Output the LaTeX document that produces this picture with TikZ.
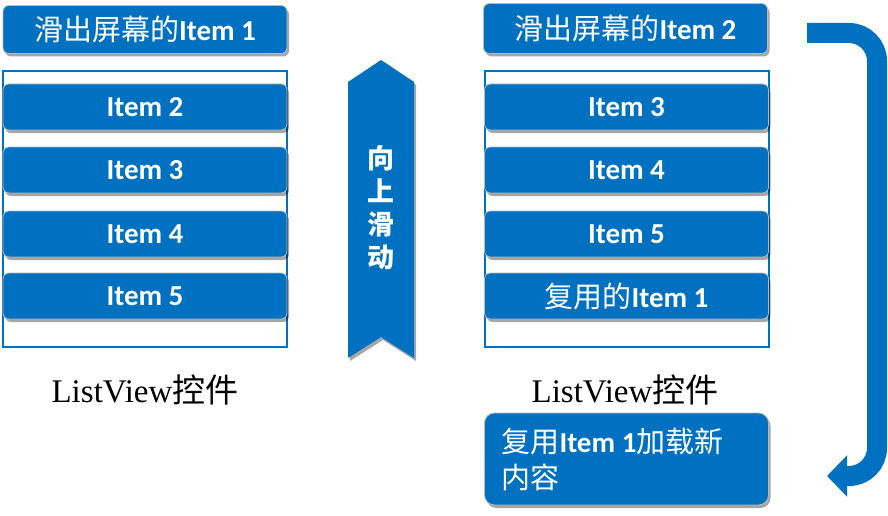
\documentclass[tikz,border=0pt]{standalone}
\usepackage{fontspec}
\setmainfont{Liberation Serif}
\newfontfamily\cjk{Noto Sans CJK SC}
\newfontfamily\itf{Carlito}
\usetikzlibrary{shadows,arrows.meta}
\definecolor{itemblue}{HTML}{0070C0}
\newcommand\It[1]{{\itf\bfseries #1}}
\tikzset{
  shad/.style={drop shadow={shadow xshift=2pt, shadow yshift=-3pt, opacity=0.35, fill=black}},
  itembox/.style={draw=gray!55, line width=0.8pt, fill=itemblue, rounded corners=6pt,
    minimum width=284pt, minimum height=46pt, inner sep=0pt, text=white, shad,
    font=\itf\bfseries\fontsize{29}{32}\selectfont},
  titlebox/.style={itembox, minimum height=48pt, font=\fontsize{29}{32}\selectfont},
  framebox/.style={draw=itemblue, line width=2pt, minimum width=284pt, minimum height=276pt, inner sep=0pt},
  lvlabel/.style={font=\fontsize{33}{36}\selectfont, inner sep=0pt},
  notebox/.style={itembox, rounded corners=10pt, minimum height=92pt, text width=250pt,
    align=left, font=\fontsize{29}{36}\selectfont},
  ribbontext/.style={text=white, font=\cjk\bfseries\fontsize{27}{33}\selectfont, align=center, inner sep=0pt}
}
\begin{document}
\begin{tikzpicture}[x=1pt,y=-1pt]
\useasboundingbox (0,0) rectangle (888,516);
% left column
\node[titlebox] (t1) at (145,29.5) {{\cjk 滑出屏幕的}\It{Item 1}};
\node[framebox] (f1) at (145,209) {};
\node[itembox] (l2) at (145,107) {Item 2};
\node[itembox] (l3) at (145,170) {Item 3};
\node[itembox] (l4) at (145,234) {Item 4};
\node[itembox] (l5) at (145,296) {Item 5};
\node[lvlabel] (lv1) at (145,390) {ListView{\cjk 控件}};
% ribbon arrow
\fill[itemblue, shad] (348,82) -- (381,60) -- (414,82) -- (414,358) -- (381,337) -- (348,358) -- cycle;
\node[ribbontext] (rt) at (381,208) {向\\上\\滑\\动};
% right column
\node[titlebox, minimum height=50pt] (t2) at (625.5,28.5) {{\cjk 滑出屏幕的}\It{Item 2}};
\node[framebox] (f2) at (627,209) {};
\node[itembox] (r3) at (626.5,107) {Item 3};
\node[itembox] (r4) at (626.5,170) {Item 4};
\node[itembox] (r5) at (626.5,234) {Item 5};
\node[itembox, font=\fontsize{29}{32}\selectfont] (r1) at (626.5,296) {{\cjk 复用的}\It{Item 1}};
\node[lvlabel] (lv2) at (625,390) {ListView{\cjk 控件}};
\node[notebox] (nb) at (626.5,459) {{\cjk 复用}\It{Item\hspace{0.23em}1}{\cjk 加载新}\\{\cjk 内容}};
% curved arrow
\coordinate (as) at (807,33);
\coordinate (ae) at (827,476);
\draw[itemblue, line width=20pt, rounded corners=28pt, -{Triangle[length=20pt,width=40pt]}]
  (as) -| (877,476) -- (ae);
\end{tikzpicture}
\end{document}
